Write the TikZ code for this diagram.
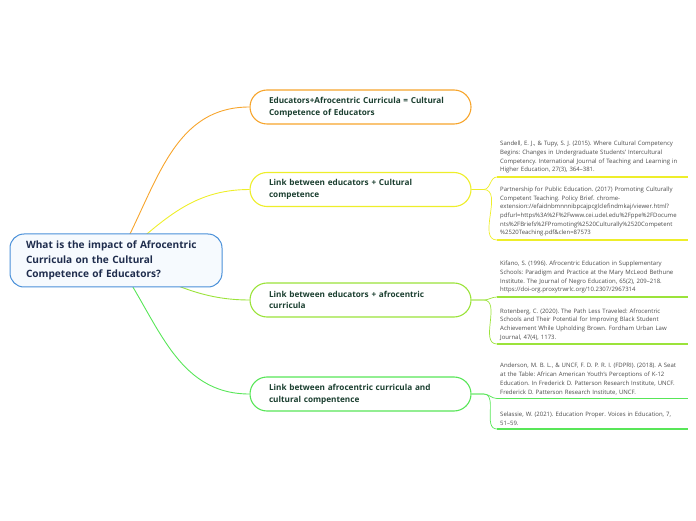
\documentclass[tikz,border=0pt]{standalone}
\usepackage{fontspec}
\setmainfont{Open Sans}
\frenchspacing
\usetikzlibrary{backgrounds}
\definecolor{rootblue}{HTML}{4A90D9}
\definecolor{rootfill}{HTML}{F6FAFE}
\definecolor{roottext}{HTML}{1F2D4D}
\definecolor{topictext}{HTML}{1B3F30}
\definecolor{reftext}{HTML}{4A4A4A}
\definecolor{torange}{HTML}{F7A52C}
\definecolor{tyellow}{HTML}{EEEE2A}
\definecolor{tlime}{HTML}{9BE33A}
\definecolor{tgreen}{HTML}{58E658}
\tikzset{
  rootbox/.style={draw=rootblue, line width=1pt, fill=rootfill, rounded corners=14pt, minimum height=53pt, text width=180pt, inner xsep=16pt, align=left, text=roottext, font=\fontsize{10.1}{14.2}\selectfont\bfseries},
  topicbox/.style={line width=1.1pt, fill=white, rounded corners=17pt, minimum height=34pt, text width=183pt, inner xsep=19pt, align=left, text=topictext, font=\fontsize{8.2}{11.8}\selectfont\bfseries},
  refnote/.style={anchor=south west, text width=185pt, inner xsep=3pt, inner ysep=3.5pt, align=left, text=reftext, font=\fontsize{6}{8.7}\selectfont},
  branch/.style={line width=0.9pt},
  twig/.style={line width=0.7pt},
  underl/.style={line width=1.3pt},
}
\begin{document}
\begin{tikzpicture}[x=1pt,y=1pt]
  \useasboundingbox (0,0) rectangle (696,520);
  % central question
  \node[rootbox] (root) at (116,259.5) {What is the impact of Afrocentric\\Curricula on the Cultural\\Competence of Educators?};
  % main topics
  \node[topicbox, draw=torange] (t1) at (360.5,413) {Educators+Afrocentric Curricula = Cultural\\Competence of Educators};
  \node[topicbox, draw=tyellow] (t2) at (360.5,330.5) {Link between educators + Cultural\\competence};
  \node[topicbox, draw=tlime] (t3) at (360.5,220) {Link between educators + afrocentric\\curricula};
  \node[topicbox, draw=tgreen] (t4) at (360.5,126) {Link between afrocentric curricula and\\cultural compentence};
  \begin{scope}[on background layer]
    \draw[branch, torange] (root.center) to[out=60,in=180] (t1.west);
    \draw[branch, tyellow] (root.center) to[out=40,in=180] (t2.west);
    \draw[branch, tlime] (root.center) to[out=-20,in=180] (t3.west);
    \draw[branch, tgreen] (root.center) to[out=-55,in=180] (t4.west);
  \end{scope}
  % references
  \node[refnote] (r1) at (497,343) {Sandell, E. J., \& Tupy, S. J. (2015). Where Cultural Competency\\Begins: Changes in Undergraduate Students’ Intercultural\\Competency. International Journal of Teaching and Learning in\\Higher Education, 27(3), 364–381.};
  \node[refnote] (r2) at (497,280) {Partnership for Public Education. (2017) Promoting Culturally\\Competent Teaching. Policy Brief. chrome-\\extension://efaidnbmnnnibpcajpcglclefindmkaj/viewer.html?\\pdfurl=https\%3A\%2F\%2Fwww.cei.udel.edu\%2Fppe\%2FDocume\\nts\%2FBriefs\%2FPromoting\%2520Culturally\%2520Competent\\\%2520Teaching.pdf\&clen=87573};
  \node[refnote] (r3) at (497,223) {Kifano, S. (1996). Afrocentric Education in Supplementary\\Schools: Paradigm and Practice at the Mary McLeod Bethune\\Institute. The Journal of Negro Education, 65(2), 209–218.\\https://doi-org.proxytrwrlc.org/10.2307/2967314};
  \node[refnote] (r4) at (497,176) {Rotenberg, C. (2020). The Path Less Traveled: Afrocentric\\Schools and Their Potential for Improving Black Student\\Achievement While Upholding Brown. Fordham Urban Law\\Journal, 47(4), 1173.};
  \node[refnote] (r5) at (497,121.5) {Anderson, M. B. L., \& UNCF, F. D. P. R. I. (FDPRI). (2018). A Seat\\at the Table: African American Youth’s Perceptions of K-12\\Education. In Frederick D. Patterson Research Institute, UNCF.\\Frederick D. Patterson Research Institute, UNCF.};
  \node[refnote] (r6) at (497,91) {Selassie, W. (2021). Education Proper. Voices in Education, 7,\\51–59.};
  \draw[underl, tyellow] (r1.south west) -- (r1.south east);
  \draw[underl, tyellow] (r2.south west) -- (r2.south east);
  \draw[underl, tlime] (r3.south west) -- (r3.south east);
  \draw[underl, tlime] (r4.south west) -- (r4.south east);
  \draw[underl, tgreen] (r5.south west) -- (r5.south east);
  \draw[underl, tgreen] (r6.south west) -- (r6.south east);
  \draw[twig, tyellow] (t2.east) -- ++(12,0) to[out=0,in=180] (r1.south west);
  \draw[twig, tyellow] (t2.east) -- ++(12,0) to[out=0,in=180] (r2.south west);
  \draw[twig, tlime] (t3.east) -- ++(12,0) to[out=0,in=180] (r3.south west);
  \draw[twig, tlime] (t3.east) -- ++(12,0) to[out=0,in=180] (r4.south west);
  \draw[twig, tgreen] (t4.east) -- ++(12,0) to[out=0,in=180] (r5.south west);
  \draw[twig, tgreen] (t4.east) -- ++(12,0) to[out=0,in=180] (r6.south west);
\end{tikzpicture}
\end{document}
